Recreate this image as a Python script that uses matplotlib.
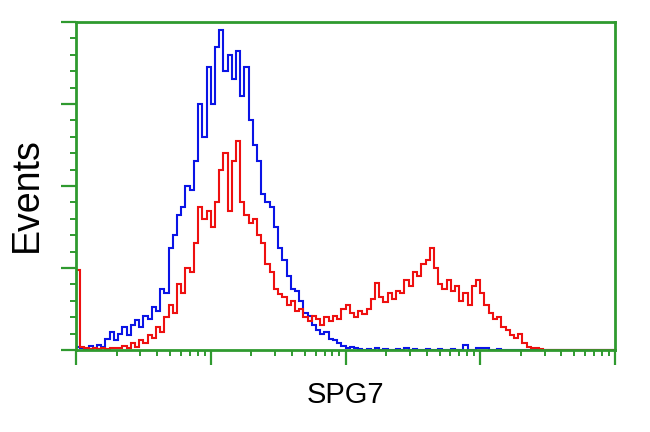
import numpy as np
import matplotlib.pyplot as plt
from matplotlib.ticker import MultipleLocator, LogLocator, NullFormatter

# ==========================
# Data (counts per channel, 128 log-spaced channels over 4 decades)
# ==========================
edges = np.logspace(0, 4, 129)

blue_counts = [
    4, 2, 1, 5, 3, 6, 4, 14, 22, 12,
    20, 28, 18, 30, 36, 28, 42, 38, 52, 48,
    75, 70, 125, 140, 165, 175, 200, 195, 230, 300,
    260, 345, 300, 370, 390, 340, 360, 330, 365, 310,
    345, 280, 250, 230, 190, 180, 175, 150, 125, 110,
    90, 75, 72, 60, 45, 42, 30, 25, 20, 22,
    14, 12, 8, 5, 3, 4, 2, 1, 0, 1,
    0, 2, 0, 1, 0, 0, 1, 0, 2, 0,
    1, 0, 0, 1, 0, 0, 1, 0, 0, 1,
    0, 0, 6, 0, 0, 2, 3, 2, 0, 0,
    1, 0, 0, 0, 0, 0, 0, 0, 0, 0,
    0, 0, 0, 0, 0, 0, 0, 0, 0, 0,
    0, 0, 0, 0, 0, 0, 0, 0,
]

red_counts = [
    98, 4, 2, 1, 2, 1, 3, 1, 2, 3,
    2, 5, 3, 8, 4, 12, 8, 18, 15, 28,
    22, 40, 55, 45, 80, 70, 100, 95, 130, 175,
    160, 170, 150, 180, 220, 240, 170, 230, 255, 180,
    165, 155, 160, 140, 130, 105, 95, 75, 68, 65,
    55, 60, 48, 50, 40, 35, 42, 38, 30, 40,
    35, 42, 38, 50, 55, 45, 40, 48, 44, 50,
    62, 82, 65, 58, 70, 62, 72, 70, 85, 78,
    95, 90, 105, 110, 125, 100, 80, 75, 85, 72,
    78, 60, 70, 55, 78, 85, 70, 55, 45, 38,
    40, 28, 25, 18, 15, 20, 8, 4, 3, 2,
    1, 0, 0, 0, 0, 0, 0, 0, 0, 0,
    0, 0, 0, 0, 0, 0, 0, 0,
]

green = '#2f9a2f'

# ==========================
# Plot
# ==========================
fig = plt.figure(figsize=(6.5, 4.32), dpi=100)
ax = fig.add_axes([76/650, 1 - 350/432, (615 - 76)/650, (350 - 22)/432])

ax.stairs(blue_counts, edges, color='#0a14e6', linewidth=1.5)
ax.stairs(red_counts, edges, color='#ee1010', linewidth=1.5)

ax.set_xscale('log')
ax.set_xlim(1, 1e4)
ax.set_ylim(0, 400)

ax.xaxis.set_major_locator(LogLocator(base=10, numticks=10))
ax.xaxis.set_minor_locator(LogLocator(base=10, subs=np.arange(2, 10), numticks=100))
ax.xaxis.set_major_formatter(NullFormatter())
ax.xaxis.set_minor_formatter(NullFormatter())

ax.yaxis.set_major_locator(MultipleLocator(100))
ax.yaxis.set_minor_locator(MultipleLocator(20))
ax.yaxis.set_major_formatter(NullFormatter())

for s in ax.spines.values():
    s.set_color(green)
    s.set_linewidth(2)

ax.tick_params(axis='both', which='major', direction='out', length=11,
               width=1.6, color=green)
ax.tick_params(axis='both', which='minor', direction='out', length=4.5,
               width=1.4, color=green)

fig.text(27/650, 1 - 195/432, 'Events', rotation=90, ha='center', va='center',
         fontsize=27, family='Liberation Sans')
fig.text(346/650, 1 - 395/432, 'SPG7', ha='center', va='center',
         fontsize=21, family='Liberation Sans')

plt.savefig('out.png', dpi=100)
